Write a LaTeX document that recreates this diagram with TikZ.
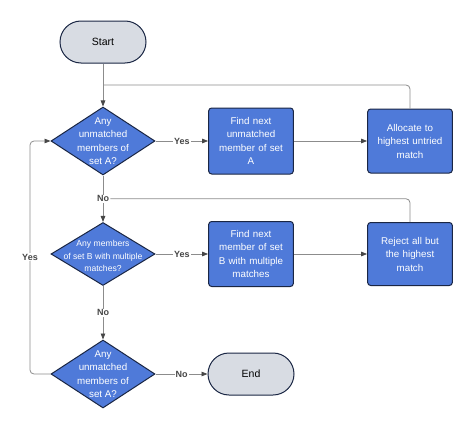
\documentclass[tikz,border=0pt]{standalone}
\usepackage{fontspec}
\setmainfont{Liberation Sans}
\usetikzlibrary{positioning, arrows.meta, shapes.geometric}
\definecolor{boxblue}{RGB}{79,122,217}
\definecolor{boxline}{RGB}{26,38,68}
\definecolor{pillgray}{RGB}{216,220,227}
\definecolor{wire}{RGB}{140,140,140}
\definecolor{tipgray}{RGB}{70,70,70}

\begin{document}
\begin{tikzpicture}[x=1pt, y=-1pt,
  pill/.style={rectangle, rounded corners=21pt, draw=boxline, line width=1pt, fill=pillgray,
    minimum width=86pt, minimum height=42pt, font=\fontsize{10.5}{12}\selectfont},
  decision/.style={diamond, draw=boxline, line width=1pt, fill=boxblue,
    minimum width=104pt, minimum height=68pt, inner sep=0pt},
  dtext/.style={text=white, align=center, font=\fontsize{9.8}{13.5}\selectfont},
  process/.style={rectangle, rounded corners=3pt, draw=boxline, line width=1pt, fill=boxblue,
    minimum width=84pt, minimum height=66pt, text width=78pt, align=center, text=white,
    font=\fontsize{9.8}{13.5}\selectfont},
  wire/.style={draw=wire, line width=0.8pt, -{Triangle[length=6pt, width=4.5pt, color=tipgray]}},
  plain/.style={draw=wire, line width=0.8pt, rounded corners=4pt},
  tag/.style={fill=white, inner sep=1pt, text=tipgray, font=\fontsize{9}{10}\selectfont\bfseries}]

\useasboundingbox (0,0) rectangle (474,431);

\node[pill] (start) at (103,42) {Start};

\node[decision] (q1) at (103,141) {};
\node[dtext] (q1t) at (q1) {Any\\unmatched\\members of\\set A?};
\node[process] (find1) at (251,141) {Find next\\unmatched\\member of set\\A};
\node[process, minimum height=64pt] (alloc) at (410,141) {Allocate to\\highest untried\\match};

\node[decision, minimum height=63pt] (q2) at (103,254) {};
\node[dtext, font=\fontsize{8.6}{12.5}\selectfont] (q2t) at (103,256) {Any members\\of set B with multiple\\matches?};
\node[process, minimum height=65pt] (find2) at (251,254) {Find next\\member of set\\B with multiple\\matches};
\node[process, minimum height=63pt] (reject) at (410,254) {Reject all but\\the highest\\match};

\node[decision] (q3) at (103,374) {};
\node[dtext] (q3t) at (q3) {Any\\unmatched\\members of\\set A?};
\node[pill] (end) at (251,374) {End};

\coordinate (loopA) at (103,85);
\coordinate (loopY) at (30,257);

\draw[wire] (start) -- (q1);
\draw[plain] (alloc.north) |- (loopA);
\draw[wire] (q1) -- node[tag] (yes1) {Yes} (find1);
\draw[wire] (find1) -- (alloc);
\draw[wire] (q1) -- node[tag] (no1) {No} (q2);
\draw[plain] (reject.north) |- (no1.east);
\draw[wire] (q2) -- node[tag] (yes2) {Yes} (find2);
\draw[wire] (find2) -- (reject);
\draw[wire] (q2) -- node[tag] (no2) {No} (q3);
\draw[wire] (q3) -- node[tag] (no3) {No} (end);
\draw[wire, rounded corners=4pt] (q3.west) -| (loopY) |- (q1.west);
\node[tag] (yes3) at (loopY) {Yes};
\end{tikzpicture}
\end{document}
